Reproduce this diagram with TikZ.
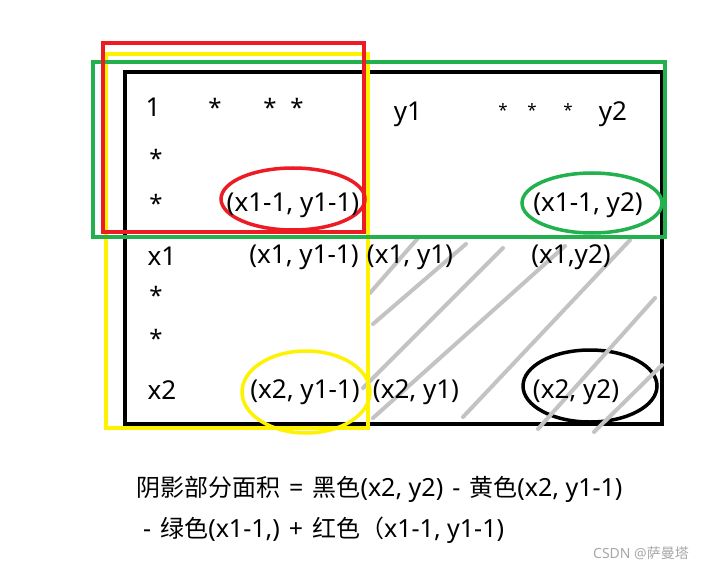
\documentclass[tikz,border=0pt]{standalone}
\usepackage{fontspec}
\setmainfont{Noto Sans}
\newfontfamily\cjk{Noto Sans CJK SC}
\definecolor{pred}{HTML}{ED1C24}
\definecolor{pyellow}{HTML}{FFF200}
\definecolor{pgreen}{HTML}{22B14C}
\definecolor{pgray}{HTML}{C3C3C3}
\definecolor{wmgray}{HTML}{A8A8A8}
\newcommand{\gapsp}{\hspace*{9pt}}
\tikzset{
  frame/.style={line width=4pt},
  hatchline/.style={pgray, line width=4pt, line cap=round},
  ring/.style={line width=3.5pt},
  lbl/.style={inner sep=0pt, font=\fontsize{26}{30}\selectfont},
  star/.style={inner sep=0pt, font=\fontsize{24}{28}\selectfont},
  smallstar/.style={inner sep=0pt, font=\fontsize{17}{20}\selectfont},
  note/.style={inner sep=0pt, anchor=west, font=\fontsize{25}{29}\selectfont},
}
\begin{document}
\begin{tikzpicture}[x=1pt,y=-1pt]
\useasboundingbox (0,0) rectangle (706,572);
\fill[white] (0,0) rectangle (706,572);
% black frame and ellipse
\draw[frame, black] (125,72) rectangle (662,424);
\draw[ring, black] (590,386) ellipse [x radius=67, y radius=36];
% hatch
\draw[hatchline] (418,238) -- (370,293);
\draw[hatchline] (466,244) -- (373,324);
\draw[hatchline] (503,248) -- (363,388);
\draw[hatchline] (565,246) -- (373,418);
\draw[hatchline] (630,240) -- (463,417);
\draw[hatchline] (655,298) -- (538,429);
\draw[hatchline] (662,365) -- (594,432);
% coloured frames
\draw[frame, pyellow] (106,54) rectangle (368,428);
\draw[ring, pyellow] (306,392) ellipse [x radius=64, y radius=41];
\draw[frame, pgreen] (93,62) rectangle (665,237);
\draw[ring, pgreen] (592,203) ellipse [x radius=70, y radius=30];
\draw[frame, pred] (103,43) rectangle (364,232);
\draw[ring, pred] (293,199) ellipse [x radius=72, y radius=31];
% row 1
\node[lbl] (one) at (153,107) {1};
\node[star] (s1) at (215,107) {*};
\node[star] (s2) at (270,107) {*};
\node[star] (s3) at (297,107) {*};
\node[lbl] (y1) at (408,114) {y1};
\node[smallstar] (s4) at (503,110) {*};
\node[smallstar] (s5) at (532,110) {*};
\node[smallstar] (s6) at (568,110) {*};
\node[lbl] (y2) at (613,114) {y2};
% left column
\node[star] (c1) at (156,158) {*};
\node[star] (c2) at (156,203) {*};
\node[lbl] (x1) at (162,256) {x1};
\node[star] (c3) at (156,295) {*};
\node[star] (c4) at (156,338) {*};
\node[lbl] (x2) at (162,390) {x2};
% cells
\node[lbl] (a) at (293,205) {(x1-1, y1-1)};
\node[lbl] (b) at (588,205) {(x1-1, y2)};
\node[lbl] (c) at (304,257) {(x1, y1-1)};
\node[lbl] (d) at (410,257) {(x1, y1)};
\node[lbl] (e) at (571,257) {(x1,y2)};
\node[lbl] (f) at (305,392) {(x2, y1-1)};
\node[lbl] (g) at (416,392) {(x2, y1)};
\node[lbl] (h) at (576,392) {(x2, y2)};
% formula
\node[note] (n1) at (136,489) {{\fontsize{24}{28}\selectfont\cjk 阴影部分面积}\gapsp=\gapsp{\fontsize{24}{28}\selectfont\cjk 黑色}(x2, y2)\gapsp-\gapsp{\fontsize{24}{28}\selectfont\cjk 黄色}(x2, y1-1)};
\node[note] (n2) at (143,530) {-\gapsp{\fontsize{24}{28}\selectfont\cjk 绿色}(x1-1,)\gapsp+\gapsp{\fontsize{24}{28}\selectfont\cjk 红色（}x1-1, y1-1)};
\node[inner sep=0pt, wmgray, font=\fontsize{14}{16}\selectfont] (wm) at (641,553) {CSDN @{\cjk 萨曼塔}};
\end{tikzpicture}
\end{document}
